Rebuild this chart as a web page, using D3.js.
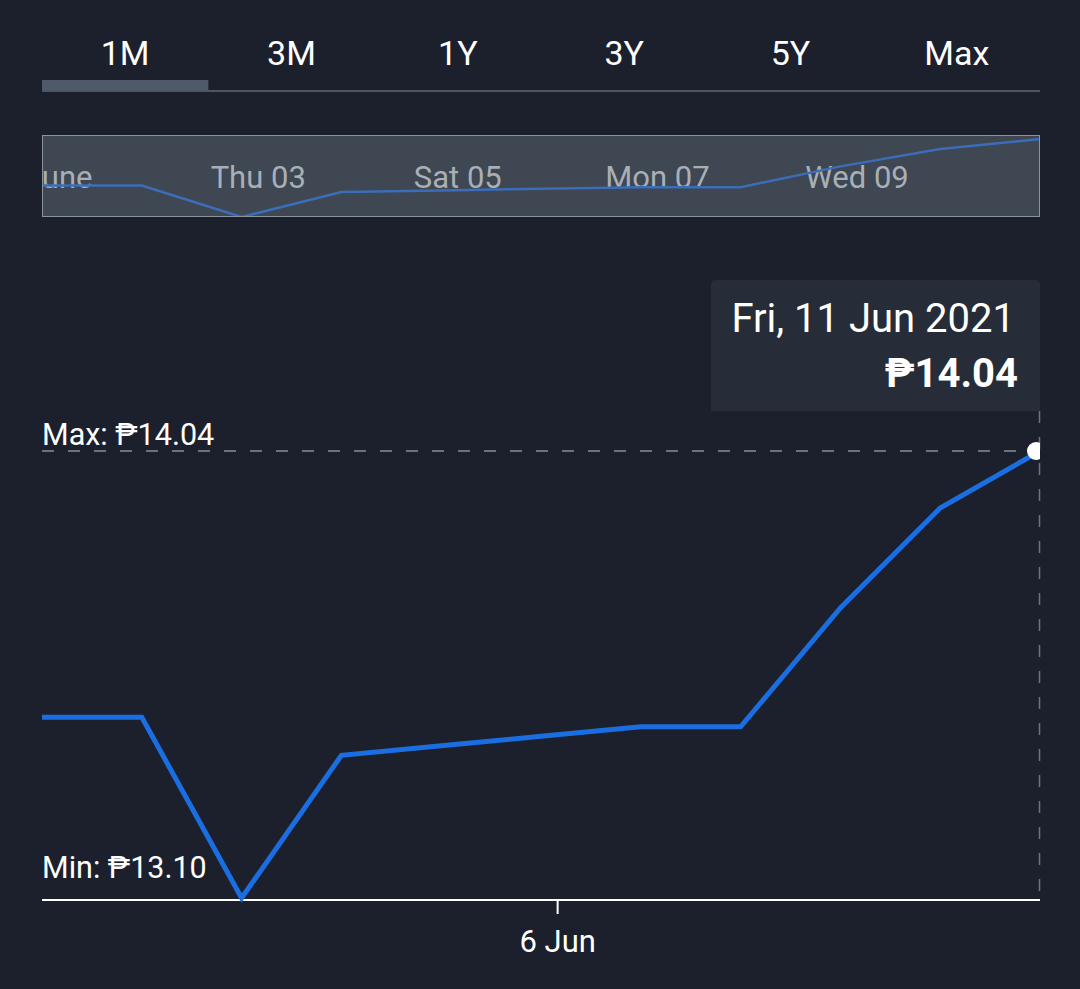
<!DOCTYPE html>
<html>
<head>
<meta charset="utf-8">
<script src="https://cdn.jsdelivr.net/npm/d3@7"></script>
<style>
  html, body { margin: 0; padding: 0; background: #1b202c; }
  svg { display: block; font-family: Roboto, "DejaVu Sans", sans-serif; }
</style>
</head>
<body>
<svg width="1080" height="989"></svg>
<script>
// data
var tabs = ["1M", "3M", "1Y", "3Y", "5Y", "Max"];
var days = ["2021-06-01", "2021-06-02", "2021-06-03", "2021-06-04", "2021-06-05", "2021-06-06",
            "2021-06-07", "2021-06-08", "2021-06-09", "2021-06-10", "2021-06-11"];
var prices = [13.48, 13.48, 13.10, 13.40, 13.42, 13.44, 13.46, 13.46, 13.71, 13.92, 14.04];
var navTicks = ["2021-06-01", "2021-06-03", "2021-06-05", "2021-06-07", "2021-06-09"];
var mainTicks = ["2021-06-06"];

var svg = d3.select("svg"),
    width = +svg.attr("width"),
    height = +svg.attr("height");

var parse = d3.utcParse("%Y-%m-%d");
var data = days.map(function (d, i) {
    return {date: parse(d), value: prices[i]};
});

var left = 42, right = 1040;
var tzShift = 4.3; // hours between data stamps and axis midnight

var x = d3.scaleUtc()
    .domain(d3.extent(data, function (d) { return d.date; }))
    .range([left, right]);

function tickX(s) {
    return x(d3.utcHour.offset(parse(s), tzShift));
}

// ---- tabs
var tab = d3.scaleBand().domain(tabs).range([left, right]);

svg.append("g").selectAll("text")
    .data(tabs)
    .enter().append("text")
    .attr("x", function (d) { return tab(d) + tab.bandwidth() / 2; })
    .attr("y", 65)
    .attr("text-anchor", "middle")
    .attr("fill", "#ffffff")
    .attr("font-size", 34)
    .text(function (d) { return d; });

svg.append("rect")
    .attr("x", left).attr("y", 90)
    .attr("width", right - left).attr("height", 2)
    .attr("fill", "#4b5563");

svg.append("rect")
    .attr("x", tab("1M")).attr("y", 80)
    .attr("width", tab.bandwidth()).attr("height", 10)
    .attr("fill", "#4f5a68");

// ---- navigator
var navTop = 135, navBottom = 217;
var yNav = d3.scaleLinear()
    .domain(d3.extent(prices))
    .range([navBottom, navTop + 4]);

svg.append("defs").append("clipPath").attr("id", "navclip")
    .append("rect")
    .attr("x", left).attr("y", navTop)
    .attr("width", right - left).attr("height", navBottom - navTop);

svg.append("rect")
    .attr("x", left + 0.5).attr("y", navTop + 0.5)
    .attr("width", right - left - 1).attr("height", navBottom - navTop - 1)
    .attr("fill", "#3e4752");

var nav = svg.append("g").attr("clip-path", "url(#navclip)");

nav.selectAll("text")
    .data(navTicks)
    .enter().append("text")
    .attr("x", function (d) { return tickX(d); })
    .attr("y", 188)
    .attr("text-anchor", "middle")
    .attr("fill", "#a9afb7")
    .attr("font-size", 31)
    .text(function (d, i) {
        return i === 0 ? "June" : d3.utcFormat("%a %d")(parse(d));
    });

nav.append("path")
    .datum(data)
    .attr("fill", "none")
    .attr("stroke", "#3b6db8")
    .attr("stroke-width", 2.5)
    .attr("d", d3.line()
        .x(function (d) { return x(d.date); })
        .y(function (d) { return yNav(d.value); }));

svg.append("rect")
    .attr("x", left + 0.5).attr("y", navTop + 0.5)
    .attr("width", right - left - 1).attr("height", navBottom - navTop - 1)
    .attr("fill", "none")
    .attr("stroke", "#8d939b")
    .attr("stroke-width", 1);

// ---- main chart
var y = d3.scaleLinear()
    .domain(d3.extent(prices))
    .range([898, 451]);

var maxV = d3.max(prices), minV = d3.min(prices);
var last = data[data.length - 1];

svg.append("line")
    .attr("x1", left).attr("x2", right - 4)
    .attr("y1", y(maxV)).attr("y2", y(maxV))
    .attr("stroke", "#6b7380")
    .attr("stroke-width", 2)
    .attr("stroke-dasharray", "12,14");

svg.append("line")
    .attr("x1", right - 0.5).attr("x2", right - 0.5)
    .attr("y1", 411).attr("y2", 900)
    .attr("stroke", "#6b7380")
    .attr("stroke-width", 1.5)
    .attr("stroke-dasharray", "12,14");

svg.append("text")
    .attr("x", left).attr("y", 445)
    .attr("fill", "#ffffff")
    .attr("font-size", 30.5)
    .text("Max: ₱" + maxV.toFixed(2));

svg.append("text")
    .attr("x", left).attr("y", 878)
    .attr("fill", "#ffffff")
    .attr("font-size", 30.5)
    .text("Min: ₱" + minV.toFixed(2));

// x axis
svg.append("line")
    .attr("x1", left).attr("x2", right)
    .attr("y1", 900).attr("y2", 900)
    .attr("stroke", "#ffffff")
    .attr("stroke-width", 2);

var xt = svg.append("g").selectAll("g")
    .data(mainTicks)
    .enter().append("g")
    .attr("transform", function (d) { return "translate(" + tickX(d) + ",0)"; });

xt.append("line")
    .attr("y1", 900).attr("y2", 914)
    .attr("stroke", "#ffffff")
    .attr("stroke-width", 2);

xt.append("text")
    .attr("y", 952)
    .attr("text-anchor", "middle")
    .attr("fill", "#ffffff")
    .attr("font-size", 31)
    .text(function (d) { return d3.utcFormat("%-d %b")(parse(d)); });

svg.append("defs").append("clipPath").attr("id", "plotclip")
    .append("rect")
    .attr("x", 0).attr("y", 400)
    .attr("width", right).attr("height", 520);

var plot = svg.append("g").attr("clip-path", "url(#plotclip)");

plot.append("path")
    .datum(data)
    .attr("fill", "none")
    .attr("stroke", "#1a6ee2")
    .attr("stroke-width", 5)
    .attr("stroke-linejoin", "miter")
    .attr("d", d3.line()
        .x(function (d) { return x(d.date); })
        .y(function (d) { return y(d.value); }));

plot.append("circle")
    .attr("cx", x(last.date) - 4)
    .attr("cy", y(last.value))
    .attr("r", 9)
    .attr("fill", "#ffffff");

// ---- tooltip
var tip = svg.append("g");

tip.append("path")
    .attr("d", "M711,411 V285 Q711,280 716,280 H1035 Q1040,280 1040,285 V411 Z")
    .attr("fill", "#262d39");

tip.append("text")
    .attr("x", 1015).attr("y", 332)
    .attr("text-anchor", "end")
    .attr("fill", "#ffffff")
    .attr("font-size", 40)
    .text(d3.utcFormat("%a, %d %b %Y")(last.date));

tip.append("text")
    .attr("x", 1018).attr("y", 387)
    .attr("text-anchor", "end")
    .attr("fill", "#ffffff")
    .attr("font-size", 40)
    .attr("font-weight", "bold")
    .text("₱" + last.value.toFixed(2));
</script>
</body>
</html>
